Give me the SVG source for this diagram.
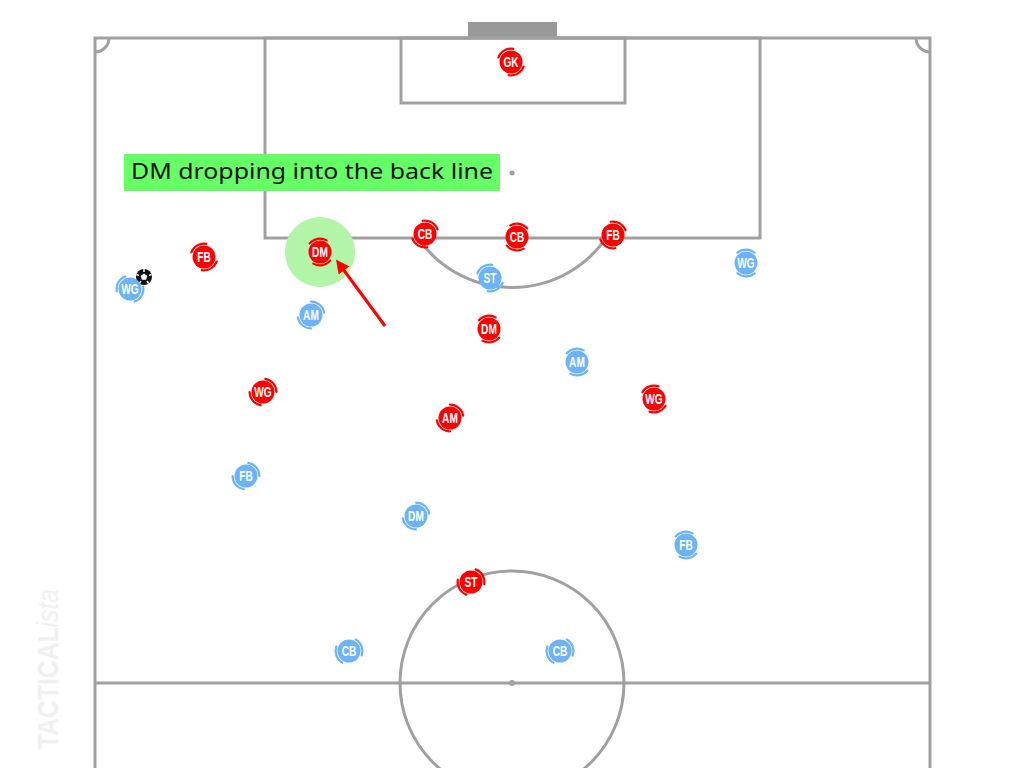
<svg xmlns="http://www.w3.org/2000/svg" width="1024" height="768" viewBox="0 0 1024 768">
<style>
.ln{fill:none;stroke:#a0a0a0;stroke-width:3}
.red circle{fill:#f00}
.red .sw{stroke:#f00}
.blue circle{fill:#6db3fb}
.blue .sw{stroke:#6db3fb}
.sw{fill:none;stroke-width:2.2;stroke-linecap:round}
.pt{fill:#fff;font-family:"Liberation Sans","DejaVu Sans",sans-serif;font-weight:bold;font-size:14.5px;text-anchor:middle}
</style>
<defs>
<path id="swoosh" d="M-12.6,-4.6 A13.4,13.4 0 0 1 2.3,-13.2 M12.6,4.6 A13.4,13.4 0 0 1 -2.3,13.2"/>
<marker id="ah" viewBox="0 0 10 10" refX="5" refY="5" markerWidth="4.5" markerHeight="4.5" orient="auto"><path d="M0,0 L10,5 L0,10 z" fill="#f00"/></marker>
</defs>
<rect width="1024" height="768" fill="#fff"/>
<text transform="translate(58,749) rotate(-90)" font-family="Liberation Sans,DejaVu Sans,sans-serif" font-weight="bold" font-size="30" fill="#f0f0f0" textLength="160" lengthAdjust="spacingAndGlyphs">TACTICAL<tspan font-style="italic" font-weight="normal">ista</tspan></text>
<g id="pitch">
<rect x="468" y="22" width="89" height="16" fill="#999"/>
<path class="ln" d="M95,768 V38 H930 V768"/>
<path class="ln" d="M95,683 H930"/>
<rect class="ln" x="265" y="38" width="495" height="200"/>
<rect class="ln" x="401" y="38" width="224" height="65"/>
<path class="ln" d="M418,238 A114,114 0 0 0 606,238"/>
<circle class="ln" cx="512" cy="683" r="112"/>
<circle cx="512" cy="683" r="3" fill="#a0a0a0"/>
<circle cx="512" cy="173" r="2.5" fill="#a0a0a0"/>
<path class="ln" d="M95,52 A14,14 0 0 0 109,38 M916,38 A14,14 0 0 0 930,52"/>
</g>
<g id="label">
<rect x="124" y="154" width="376" height="37" fill="#66ff66"/>
<text x="131" y="179" font-family="Noto Sans,Open Sans,sans-serif" font-size="21" fill="#111" textLength="362" lengthAdjust="spacingAndGlyphs">DM dropping into the back line</text>
</g>
<circle id="highlight" cx="320" cy="252" r="35" fill="#b3f5a8"/>
<g id="connectors">
<line x1="385" y1="326" x2="340" y2="265" stroke="#f00" stroke-width="3" marker-end="url(#ah)"/>
</g>
<g id="ball" transform="translate(144,277)">
<circle r="8" fill="#111"/>
<path d="M0,-3.5 L3.3,-1.1 L2.1,2.8 L-2.1,2.8 L-3.3,-1.1 Z" fill="#fff"/>
<path d="M0,-8 L0,-5 M7.6,-2.5 L5,-1.6 M4.7,6.5 L3,4 M-4.7,6.5 L-3,4 M-7.6,-2.5 L-5,-1.6" stroke="#fff" stroke-width="1.5"/>
</g>
<g id="red-gk" class="red" transform="translate(511,62)"><use href="#swoosh" class="sw" transform="rotate(0)"/><circle r="11.5"/><text class="pt" y="5.3" transform="scale(0.7,1)">GK</text></g>
<g id="red-cb1" class="red" transform="translate(425,234)"><use href="#swoosh" class="sw" transform="rotate(60)"/><circle r="11.5"/><text class="pt" y="5.3" transform="scale(0.7,1)">CB</text></g>
<g id="red-cb2" class="red" transform="translate(517,237)"><use href="#swoosh" class="sw" transform="rotate(40)"/><circle r="11.5"/><text class="pt" y="5.3" transform="scale(0.7,1)">CB</text></g>
<g id="red-fb1" class="red" transform="translate(613,235)"><use href="#swoosh" class="sw" transform="rotate(60)"/><circle r="11.5"/><text class="pt" y="5.3" transform="scale(0.7,1)">FB</text></g>
<g id="red-dm1" class="red" transform="translate(320,252)"><use href="#swoosh" class="sw" transform="rotate(20)"/><circle r="11.5"/><text class="pt" y="5.3" transform="scale(0.7,1)">DM</text></g>
<g id="red-fb2" class="red" transform="translate(204,257)"><use href="#swoosh" class="sw" transform="rotate(0)"/><circle r="11.5"/><text class="pt" y="5.3" transform="scale(0.7,1)">FB</text></g>
<g id="red-dm2" class="red" transform="translate(489,329)"><use href="#swoosh" class="sw" transform="rotate(20)"/><circle r="11.5"/><text class="pt" y="5.3" transform="scale(0.7,1)">DM</text></g>
<g id="red-wg1" class="red" transform="translate(263,392)"><use href="#swoosh" class="sw" transform="rotate(80)"/><circle r="11.5"/><text class="pt" y="5.3" transform="scale(0.7,1)">WG</text></g>
<g id="red-am" class="red" transform="translate(450,418)"><use href="#swoosh" class="sw" transform="rotate(70)"/><circle r="11.5"/><text class="pt" y="5.3" transform="scale(0.7,1)">AM</text></g>
<g id="red-wg2" class="red" transform="translate(654,399)"><use href="#swoosh" class="sw" transform="rotate(10)"/><circle r="11.5"/><text class="pt" y="5.3" transform="scale(0.7,1)">WG</text></g>
<g id="red-st" class="red" transform="translate(471,582)"><use href="#swoosh" class="sw" transform="rotate(90)"/><circle r="11.5"/><text class="pt" y="5.3" transform="scale(0.7,1)">ST</text></g>
<g id="blue-wg1" class="blue" transform="translate(130,289)"><use href="#swoosh" class="sw" transform="rotate(-30)"/><circle r="11.5"/><text class="pt" y="5.3" transform="scale(0.7,1)">WG</text></g>
<g id="blue-am1" class="blue" transform="translate(311,315)"><use href="#swoosh" class="sw" transform="rotate(70)"/><circle r="11.5"/><text class="pt" y="5.3" transform="scale(0.7,1)">AM</text></g>
<g id="blue-st" class="blue" transform="translate(490,278)"><use href="#swoosh" class="sw" transform="rotate(0)"/><circle r="11.5"/><text class="pt" y="5.3" transform="scale(0.7,1)">ST</text></g>
<g id="blue-wg2" class="blue" transform="translate(746,263)"><use href="#swoosh" class="sw" transform="rotate(30)"/><circle r="11.5"/><text class="pt" y="5.3" transform="scale(0.7,1)">WG</text></g>
<g id="blue-am2" class="blue" transform="translate(577,362)"><use href="#swoosh" class="sw" transform="rotate(20)"/><circle r="11.5"/><text class="pt" y="5.3" transform="scale(0.7,1)">AM</text></g>
<g id="blue-fb1" class="blue" transform="translate(246,476)"><use href="#swoosh" class="sw" transform="rotate(80)"/><circle r="11.5"/><text class="pt" y="5.3" transform="scale(0.7,1)">FB</text></g>
<g id="blue-dm" class="blue" transform="translate(416,516)"><use href="#swoosh" class="sw" transform="rotate(70)"/><circle r="11.5"/><text class="pt" y="5.3" transform="scale(0.7,1)">DM</text></g>
<g id="blue-fb2" class="blue" transform="translate(686,545)"><use href="#swoosh" class="sw" transform="rotate(20)"/><circle r="11.5"/><text class="pt" y="5.3" transform="scale(0.7,1)">FB</text></g>
<g id="blue-cb1" class="blue" transform="translate(349,651)"><use href="#swoosh" class="sw" transform="rotate(100)"/><circle r="11.5"/><text class="pt" y="5.3" transform="scale(0.7,1)">CB</text></g>
<g id="blue-cb2" class="blue" transform="translate(560,651)"><use href="#swoosh" class="sw" transform="rotate(100)"/><circle r="11.5"/><text class="pt" y="5.3" transform="scale(0.7,1)">CB</text></g>
</svg>
